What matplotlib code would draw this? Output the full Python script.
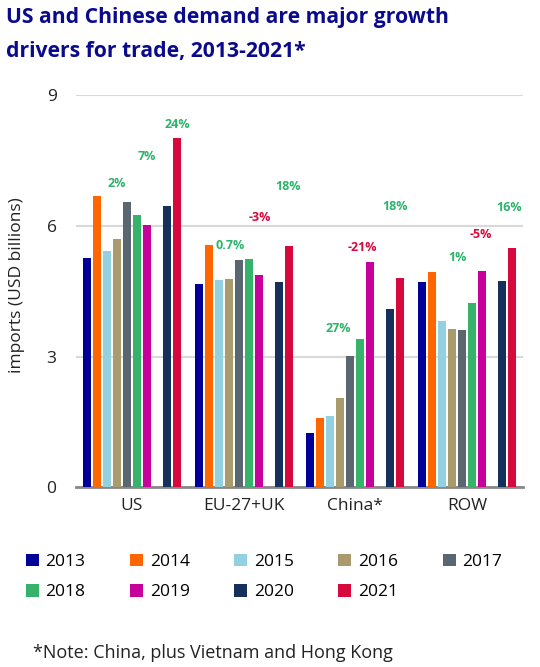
import matplotlib
matplotlib.use("Agg")
import matplotlib.pyplot as plt
import numpy as np

plt.rcParams['font.family'] = ['Open Sans', 'DejaVu Sans']

categories = ["US", "EU-27+UK", "China*", "ROW"]
years = ["2013", "2014", "2015", "2016", "2017", "2018", "2019", "2020", "2021"]
colors = ["#000099", "#FF6600", "#92D0E2", "#A99B6E", "#5B6770",
          "#36B26A", "#C8009B", "#15305A", "#D7083B"]

v2013 = [5.26, 4.66, 1.25, 4.71]
v2014 = [6.68, 5.56, 1.59, 4.94]
v2015 = [5.42, 4.75, 1.64, 3.81]
v2016 = [5.69, 4.78, 2.05, 3.63]
v2017 = [6.54, 5.21, 3.01, 3.61]
v2018 = [6.25, 5.24, 3.40, 4.23]
v2019 = [6.02, 4.87, 5.17, 4.96]
v2020 = [6.45, 4.71, 4.09, 4.73]
v2021 = [8.01, 5.53, 4.80, 5.49]
series = [v2013, v2014, v2015, v2016, v2017, v2018, v2019, v2020, v2021]

# growth annotations: (group index, slot position, y value, text)
ann_group = [0, 0, 0, 1, 1, 1, 2, 2, 2, 3, 3, 3]
ann_slot = [3.0, 6.0, 9.0, 3.2, 6.1, 8.9, 2.8, 5.15, 8.5, 3.5, 5.9, 8.65]
ann_y = [6.98, 7.58, 8.33, 5.54, 6.20, 6.89, 3.65, 5.51, 6.45, 5.28, 5.81, 6.41]
ann_text = ["2%", "7%", "24%", "0.7%", "-3%", "18%", "27%", "-21%", "18%", "1%", "-5%", "16%"]

GREEN = "#2DB36B"
RED = "#D7083B"

W, H = 540, 667
fig = plt.figure(figsize=(W / 100, H / 100), dpi=100)
ax = fig.add_axes([76 / W, (H - 487.3) / H, (523 - 76) / W, (487.3 - 95) / H])

slot_w = 10 / 111.75
bar_w = 8 / 111.75
slots = [0, 1, 2, 3, 4, 5, 6, 8, 9]
x = np.arange(len(categories))
handles = []
for i, (yr, vals, col) in enumerate(zip(years, series, colors)):
    off = (slots[i] - 4.5) * slot_w
    b = ax.bar(x + off, vals, width=bar_w, color=col, label=yr, zorder=3)
    handles.append(b)

for g, s, yv, t in zip(ann_group, ann_slot, ann_y, ann_text):
    xx = g + (s - 4.5) * slot_w
    ax.text(xx, yv, t, ha='center', va='center', fontsize=9, fontweight='bold',
            color=RED if t.startswith('-') else GREEN, zorder=4)

ax.set_xlim(-0.5, 3.5)
ax.set_ylim(0, 9)
ax.set_yticks([0, 3, 6, 9])
ax.set_xticks(x)
ax.set_xticklabels(categories)
ax.yaxis.grid(True, color="#D9D9D9", linewidth=1.5, zorder=0)
ax.set_axisbelow(True)
for sp in ["top", "right", "left"]:
    ax.spines[sp].set_visible(False)
ax.spines["bottom"].set_color("#888888")
ax.spines["bottom"].set_linewidth(2)
ax.tick_params(axis='both', length=0, labelsize=12.5, colors="#222222")
ax.tick_params(axis='x', pad=8)
ax.tick_params(axis='y', pad=14)
ax.set_ylabel("imports (USD billions)", fontsize=12.5, color="#222222")
ax.yaxis.set_label_coords(-(76 - 25) / 447, (487.3 - 285) / 392.3)

order = [0, 5, 1, 6, 2, 7, 3, 8, 4]
fig.legend([handles[k] for k in order], [years[k] for k in order],
           ncol=5, loc='upper left', bbox_to_anchor=(10 / W, 1 - 538 / H),
           frameon=False, fontsize=12.5, handlelength=0.75, handleheight=0.75,
           handletextpad=0.4, columnspacing=2.55, labelspacing=0.8)

TITLE = "#0A0A8C"
fig.text(6 / W, 1 - 23 / H, "US and Chinese demand are major growth", fontsize=15.2,
         fontweight='bold', color=TITLE, va='baseline', ha='left')
fig.text(6 / W, 1 - 57 / H, "drivers for trade, 2013-2021*", fontsize=15.2,
         fontweight='bold', color=TITLE, va='baseline', ha='left')
fig.text(33 / W, 1 - 653 / H, "*Note: China, plus Vietnam and Hong Kong", fontsize=13,
         color="#222222", va='center', ha='left')

fig.savefig("out.png", dpi=100)
